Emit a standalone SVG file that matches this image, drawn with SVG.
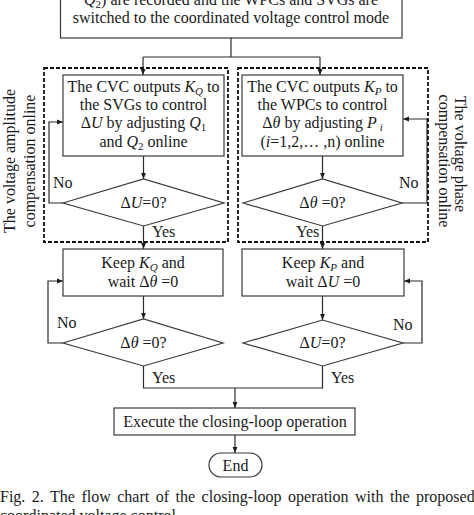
<svg xmlns="http://www.w3.org/2000/svg" width="474" height="515" viewBox="0 0 474 515">
<style>
text{font-family:"Liberation Serif","Times New Roman",serif;font-size:16px;fill:#1a1a1a}
.c{text-anchor:middle}
.i{font-style:italic}
.s{font-size:11px}
.box{fill:#fff;stroke:#3a3a3a;stroke-width:1.2}
.dash{fill:none;stroke:#111;stroke-width:1.8;stroke-dasharray:4 2}
.ln{fill:none;stroke:#2a2a2a;stroke-width:1.2}
.ar{fill:none;stroke:#2a2a2a;stroke-width:1.2;marker-end:url(#ah)}
</style>
<defs>
<marker id="ah" viewBox="0 0 10 10" refX="10" refY="5" markerWidth="6" markerHeight="6" markerUnits="userSpaceOnUse" orient="auto">
<path d="M0,1 L10,5 L0,9 z" fill="#1a1a1a"/>
</marker>
</defs>
<rect width="474" height="515" fill="#fff"/>

<g id="connectors">
<path class="ln" d="M231,38 V57 M143,57 H320"/>
<path class="ar" d="M143,57 V75"/>
<path class="ar" d="M320,57 V75"/>
<path class="ar" d="M143.5,156 V179"/>
<path class="ar" d="M322.5,156 V179"/>
<path class="ar" d="M63,203 H49 V122 H63"/>
<path class="ar" d="M402,203 H427 V119 H403"/>
<path class="ar" d="M143.5,226 V249"/>
<path class="ar" d="M322.5,226 V249"/>
<path class="ar" d="M143.5,296 V319"/>
<path class="ar" d="M322.5,296 V320"/>
<path class="ar" d="M63,343 H48 V281 H63"/>
<path class="ar" d="M403,343 H422 V281 H404"/>
<path class="ln" d="M143.5,366 V388 H322.5 V366"/>
<path class="ar" d="M235,388 V408"/>
<path class="ar" d="M235,435 V453"/>
</g>

<g id="start-box">
<rect class="box" x="60.5" y="-20" width="341.5" height="58"/>
<text class="c" x="231" y="5"><tspan class="i">Q</tspan><tspan class="s" dy="3">2</tspan><tspan dy="-3">) are recorded and the WPCs and SVGs are</tspan></text>
<text class="c" x="231" y="23">switched to the coordinated voltage control mode</text>
</g>

<g id="amplitude-group">
<rect class="dash" x="44" y="68" width="184" height="174"/>
<text class="c" transform="translate(15,161) rotate(-90)">The voltage amplitude</text>
<text class="c" transform="translate(35,161) rotate(-90)">compensation online</text>
</g>

<g id="phase-group">
<rect class="dash" x="238" y="68" width="190" height="174"/>
<text class="c" transform="translate(455,154) rotate(90)">The voltage phase</text>
<text class="c" transform="translate(439,161) rotate(90)">compensation online</text>
</g>

<g id="svg-control">
<rect class="box" x="63" y="75" width="161" height="81"/>
<text class="c" x="143.5" y="92">The CVC outputs <tspan class="i">K</tspan><tspan class="i s" dy="3">Q</tspan><tspan dy="-3"> to</tspan></text>
<text class="c" x="143.5" y="110">the SVGs to control</text>
<text class="c" x="143.5" y="128">Δ<tspan class="i">U</tspan> by adjusting <tspan class="i">Q</tspan><tspan class="s" dy="3">1</tspan></text>
<text class="c" x="143.5" y="147">and <tspan class="i">Q</tspan><tspan class="s" dy="3">2</tspan><tspan dy="-3"> online</tspan></text>
</g>

<g id="wpc-control">
<rect class="box" x="242" y="75" width="161" height="81"/>
<text class="c" x="322.5" y="92">The CVC outputs <tspan class="i">K</tspan><tspan class="i s" dy="3">P</tspan><tspan dy="-3"> to</tspan></text>
<text class="c" x="322.5" y="110">the WPCs to control</text>
<text class="c" x="322.5" y="128">Δ<tspan class="i">θ</tspan> by adjusting <tspan class="i">P</tspan><tspan class="i s" dy="3"> i</tspan></text>
<text class="c" x="322.5" y="147">(<tspan class="i">i</tspan>=1,2,… ,n) online</text>
</g>

<g id="check-u1">
<polygon class="box" points="63,203 143.5,179 224,203 143.5,226"/>
<text class="c" x="143.5" y="208">Δ<tspan class="i">U</tspan>=0?</text>
<text x="53" y="188">No</text>
<text x="152" y="237">Yes</text>
</g>

<g id="check-theta1">
<polygon class="box" points="243,203 322.5,179 402,203 322.5,226"/>
<text class="c" x="322.5" y="208">Δ<tspan class="i">θ</tspan> =0?</text>
<text x="399" y="188">No</text>
<text x="296" y="237">Yes</text>
</g>

<g id="keep-kq">
<rect class="box" x="63" y="249" width="160" height="47"/>
<text class="c" x="143" y="268">Keep <tspan class="i">K</tspan><tspan class="i s" dy="3">Q</tspan><tspan dy="-3"> and</tspan></text>
<text class="c" x="143" y="287">wait Δ<tspan class="i">θ</tspan> =0</text>
</g>

<g id="keep-kp">
<rect class="box" x="242" y="249" width="162" height="47"/>
<text class="c" x="323" y="268">Keep <tspan class="i">K</tspan><tspan class="i s" dy="3">P</tspan><tspan dy="-3"> and</tspan></text>
<text class="c" x="323" y="287">wait Δ<tspan class="i">U</tspan> =0</text>
</g>

<g id="check-theta2">
<polygon class="box" points="63,343 143.5,319 223,343 143.5,366"/>
<text class="c" x="143.5" y="348">Δ<tspan class="i">θ</tspan> =0?</text>
<text x="57" y="328">No</text>
<text x="152" y="383">Yes</text>
</g>

<g id="check-u2">
<polygon class="box" points="243,343 322.5,320 403,343 322.5,366"/>
<text class="c" x="322.5" y="348">Δ<tspan class="i">U</tspan>=0?</text>
<text x="393" y="330">No</text>
<text x="331" y="383">Yes</text>
</g>

<g id="execute">
<rect class="box" x="114" y="408" width="241" height="27"/>
<text class="c" x="235" y="427">Execute the closing-loop operation</text>
</g>

<g id="end">
<rect class="box" x="209" y="453" width="53" height="24" rx="12"/>
<text class="c" x="235.5" y="471">End</text>
</g>

<g id="caption">
<text x="0" y="502" word-spacing="2.5">Fig. 2. The flow chart of the closing-loop operation with the proposed</text>
<text x="0" y="521">coordinated voltage control</text>
</g>
</svg>
